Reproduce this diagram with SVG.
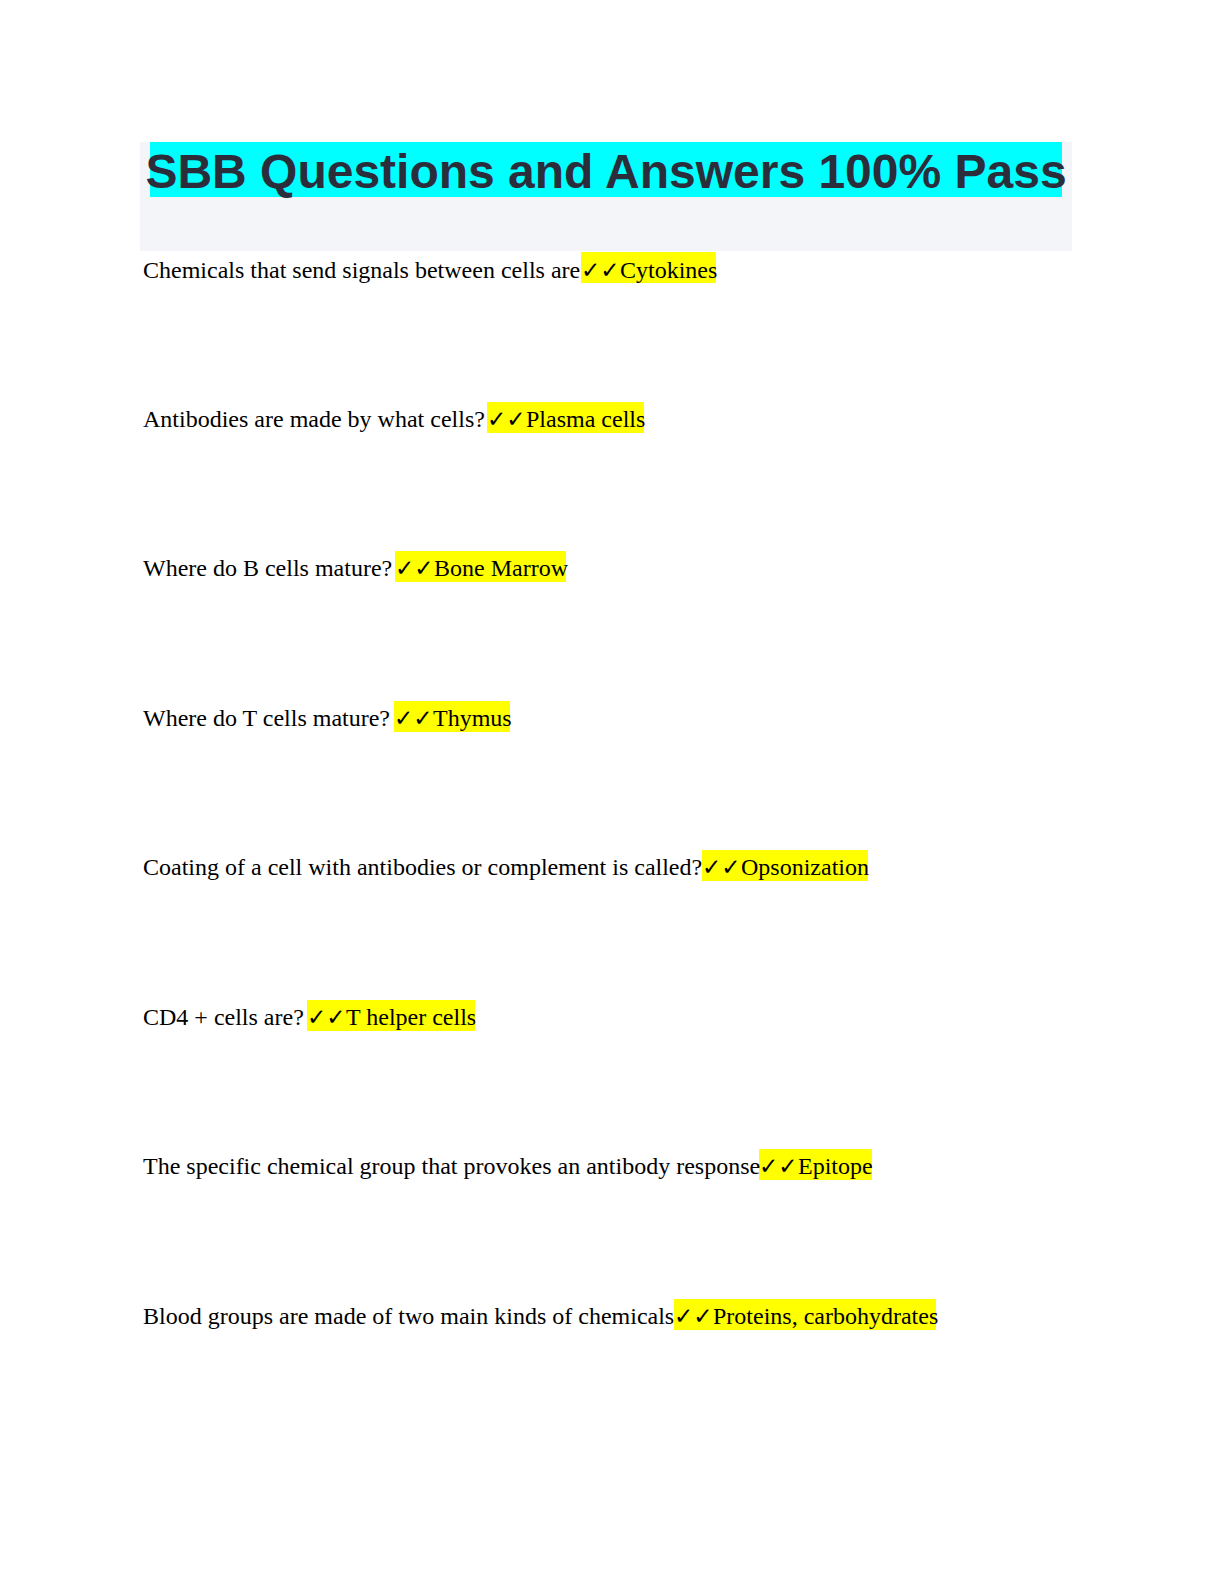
<svg xmlns="http://www.w3.org/2000/svg" width="1224" height="1584" viewBox="0 0 1224 1584">
<style>
.q{font-family:"Liberation Serif",serif;font-size:24px;fill:#000}
.c{font-family:"DejaVu Sans",sans-serif;font-weight:bold;font-size:23px}
.hl{fill:#ffff00}
</style>
<rect width="1224" height="1584" fill="#fff"/>
<rect x="140" y="142" width="932" height="109" fill="#f4f5f8"/>
<rect x="150" y="142" width="912" height="55" fill="#00ffff"/>
<text x="606" y="188" text-anchor="middle" font-family="Liberation Sans,sans-serif" font-weight="bold" font-size="48" fill="#2b2d3a">SBB Questions and Answers 100% Pass</text>
<g id="l1"><rect class="hl" x="581" y="252" width="135" height="31"/>
<text class="q" x="143" y="278">Chemicals that send signals between cells are</text><text class="q c" x="581" y="278">✓✓</text><text class="q" x="620" y="278">Cytokines</text></g>
<g id="l2"><rect class="hl" x="487" y="402" width="157" height="31"/>
<text class="q" x="143" y="427">Antibodies are made by what cells?</text><text class="q c" x="487" y="427">✓✓</text><text class="q" x="526" y="427">Plasma cells</text></g>
<g id="l3"><rect class="hl" x="395" y="551" width="171" height="31"/>
<text class="q" x="143" y="576">Where do B cells mature?</text><text class="q c" x="395" y="576">✓✓</text><text class="q" x="434" y="576">Bone Marrow</text></g>
<g id="l4"><rect class="hl" x="394" y="701" width="116" height="31"/>
<text class="q" x="143" y="726">Where do T cells mature?</text><text class="q c" x="394" y="726">✓✓</text><text class="q" x="433" y="726">Thymus</text></g>
<g id="l5"><rect class="hl" x="702" y="850" width="166" height="31"/>
<text class="q" x="143" y="875">Coating of a cell with antibodies or complement is called?</text><text class="q c" x="702" y="875">✓✓</text><text class="q" x="741" y="875">Opsonization</text></g>
<g id="l6"><rect class="hl" x="307" y="1000" width="168" height="31"/>
<text class="q" x="143" y="1025">CD4 + cells are?</text><text class="q c" x="307" y="1025">✓✓</text><text class="q" x="346" y="1025">T helper cells</text></g>
<g id="l7"><rect class="hl" x="759" y="1149" width="113" height="31"/>
<text class="q" x="143" y="1174">The specific chemical group that provokes an antibody response</text><text class="q c" x="759" y="1174">✓✓</text><text class="q" x="798" y="1174">Epitope</text></g>
<g id="l8"><rect class="hl" x="674" y="1299" width="262" height="31"/>
<text class="q" x="143" y="1324">Blood groups are made of two main kinds of chemicals</text><text class="q c" x="674" y="1324">✓✓</text><text class="q" x="713" y="1324">Proteins, carbohydrates</text></g>
</svg>
